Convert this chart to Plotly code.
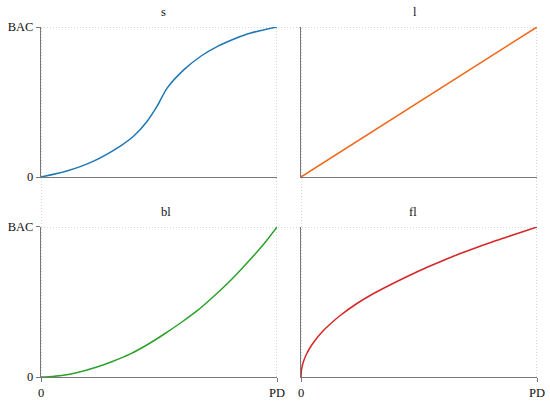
import plotly.graph_objects as go
from plotly.subplots import make_subplots

# valeurs (fraction de PD en x, fraction de BAC en y)
s_x = [0, 0.109, 0.223, 0.336, 0.393, 0.450, 0.492, 0.535, 0.606, 0.677, 0.748, 0.818, 0.889, 1.0]
s_y = [0, 0.040, 0.106, 0.206, 0.273, 0.372, 0.472, 0.594, 0.716, 0.805, 0.871, 0.920, 0.960, 1.0]

l_x = [0, 1.0]
l_y = [0, 1.0]

bl_x = [0, 0.05, 0.095, 0.15, 0.237, 0.30, 0.379, 0.45, 0.521, 0.60, 0.662, 0.73, 0.804, 0.87, 0.946, 1.0]
bl_y = [0, 0.004, 0.011, 0.028, 0.067, 0.102, 0.154, 0.215, 0.285, 0.370, 0.442, 0.535, 0.645, 0.755, 0.890, 1.0]

fl_x = [0, 0.002, 0.006, 0.012, 0.022, 0.038, 0.060, 0.095, 0.130, 0.166, 0.237, 0.30, 0.379, 0.45, 0.521,
        0.60, 0.662, 0.73, 0.804, 0.87, 0.946, 1.0]
fl_y = [0, 0.045, 0.078, 0.110, 0.148, 0.195, 0.245, 0.310, 0.362, 0.410, 0.490, 0.550, 0.615, 0.670, 0.722,
        0.775, 0.815, 0.855, 0.897, 0.932, 0.972, 1.0]

titles = ["s", "l", "bl", "fl"]
x_ticks = ["0", "PD"]
y_ticks = ["0", "BAC"]

FONT = "Liberation Serif"
AXIS = "#777777"
GRID = "#aaaaaa"

fig = make_subplots(rows=2, cols=2)

series = [
    (s_x, s_y, "#1f77b4", 1, 1),
    (l_x, l_y, "#f0671a", 1, 2),
    (bl_x, bl_y, "#2ca02c", 2, 1),
    (fl_x, fl_y, "#d62728", 2, 2),
]
for xs, ys, col, r, c in series:
    fig.add_trace(go.Scatter(x=xs, y=ys, mode="lines", line=dict(color=col, width=1.5, shape="spline", smoothing=0.8),
                             showlegend=False, hoverinfo="skip", cliponaxis=False), row=r, col=c)

col_dom = [[0, 0.4758], [0.5242, 1]]
row_dom = [[0.5714, 1], [0, 0.4286]]

for r in (1, 2):
    for c in (1, 2):
        fig.update_xaxes(domain=col_dom[c - 1], range=[0, 1], showgrid=False, zeroline=False,
                         showline=True, linecolor=AXIS, linewidth=1.3, automargin=False,
                         tickvals=[0, 1], ticktext=x_ticks,
                         showticklabels=(r == 2), ticks="outside" if r == 2 else "",
                         ticklen=4, tickcolor=AXIS, fixedrange=True, row=r, col=c)
        fig.update_yaxes(domain=row_dom[r - 1], range=[0, 1], showgrid=False, zeroline=False,
                         showline=True, linecolor=AXIS, linewidth=1.3, automargin=False,
                         tickvals=[0, 1], ticktext=y_ticks,
                         showticklabels=(c == 1), ticks="outside" if c == 1 else "",
                         ticklen=4, tickcolor=AXIS, fixedrange=True, row=r, col=c)

# grille pointillée qui traverse les espaces entre sous-graphes
for xref in ("x", "x2"):
    for xv in (0, 1):
        fig.add_shape(type="line", xref=xref, yref="paper", x0=xv, x1=xv, y0=0, y1=1,
                      line=dict(color=GRID, width=1, dash="1px,2px"), layer="below")
for yref in ("y", "y3"):
    fig.add_shape(type="line", xref="paper", yref=yref, x0=0, x1=1, y0=1, y1=1,
                  line=dict(color=GRID, width=1, dash="1px,2px"), layer="below")

i = 0
for r in (1, 2):
    for c in (1, 2):
        fig.add_annotation(text=titles[i], xref="paper", yref="paper",
                           x=sum(col_dom[c - 1]) / 2, y=row_dom[r - 1][1],
                           yanchor="middle", yshift=15, showarrow=False,
                           font=dict(family=FONT, size=12.5, color="#111111"))
        i += 1

fig.update_layout(
    width=550, height=402,
    margin=dict(l=41, r=13, t=27, b=25, autoexpand=False),
    paper_bgcolor="white", plot_bgcolor="white",
    font=dict(family=FONT, size=12.5, color="#111111"),
)

# on retire la marge par défaut du <body> pour que le graphique occupe toute la fenêtre
fig.write_html("out.html", config={"displayModeBar": False},
               post_script="document.body.style.margin='0';")
